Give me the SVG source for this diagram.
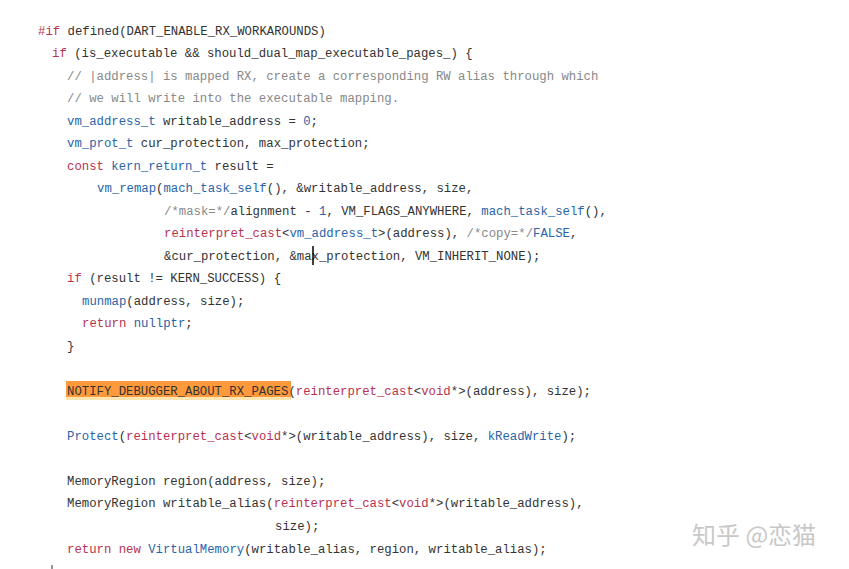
<svg xmlns="http://www.w3.org/2000/svg" width="849" height="569" viewBox="0 0 849 569">
<style>
text{font-family:"Liberation Mono","DejaVu Sans Mono",monospace;font-size:12.3px;fill:#333;white-space:pre}
.k{fill:#b8324f}.t{fill:#2a64a8}.c{fill:#888}.n{fill:#2a64a8}
.wm{font-family:"Noto Sans CJK SC",sans-serif;font-size:24px;fill:#c8c8c8}
</style>
<rect width="849" height="569" fill="#fff"/>
<rect x="66" y="381" width="225" height="19" fill="#ffe6b0"/>
<rect x="66" y="381" width="225" height="16" fill="#ff9a3c"/>
<g id="code">
<text x="38" y="35"><tspan class="k">#if</tspan> defined(DART_ENABLE_RX_WORKAROUNDS)</text>
<text x="52" y="57"><tspan class="k">if</tspan> (is_executable &amp;&amp; should_dual_map_executable_pages_) {</text>
<text x="67" y="80" class="c">// |address| is mapped RX, create a corresponding RW alias through which</text>
<text x="67" y="102" class="c">// we will write into the executable mapping.</text>
<text x="67" y="125"><tspan class="t">vm_address_t</tspan> writable_address = <tspan class="n">0</tspan>;</text>
<text x="67" y="147"><tspan class="t">vm_prot_t</tspan> cur_protection, max_protection;</text>
<text x="67" y="170"><tspan class="k">const</tspan> <tspan class="t">kern_return_t</tspan> result =</text>
<text x="97" y="192"><tspan class="t">vm_remap</tspan>(<tspan class="t">mach_task_self</tspan>(), &amp;writable_address, size,</text>
<text x="164" y="215"><tspan class="c">/*mask=*/</tspan>alignment - <tspan class="n">1</tspan>, VM_FLAGS_ANYWHERE, <tspan class="t">mach_task_self</tspan>(),</text>
<text x="164" y="237"><tspan class="k">reinterpret_cast</tspan>&lt;<tspan class="t">vm_address_t</tspan>&gt;(address), <tspan class="c">/*copy=*/</tspan><tspan class="t">FALSE</tspan>,</text>
<text x="164" y="260">&amp;cur_protection, &amp;max_protection, VM_INHERIT_NONE);</text>
<text x="67" y="282"><tspan class="k">if</tspan> (result != KERN_SUCCESS) {</text>
<text x="82" y="305"><tspan class="t">munmap</tspan>(address, size);</text>
<text x="82" y="327"><tspan class="k">return</tspan> <tspan class="t">nullptr</tspan>;</text>
<text x="67" y="350">}</text>
<text x="67" y="395">NOTIFY_DEBUGGER_ABOUT_RX_PAGES(<tspan class="k">reinterpret_cast</tspan>&lt;<tspan class="k">void</tspan>*&gt;(address), size);</text>
<text x="67" y="440"><tspan class="t">Protect</tspan>(<tspan class="k">reinterpret_cast</tspan>&lt;<tspan class="k">void</tspan>*&gt;(writable_address), size, <tspan class="t">kReadWrite</tspan>);</text>
<text x="67" y="485">MemoryRegion region(address, size);</text>
<text x="67" y="507">MemoryRegion writable_alias(<tspan class="k">reinterpret_cast</tspan>&lt;<tspan class="k">void</tspan>*&gt;(writable_address),</text>
<text x="275" y="530">size);</text>
<text x="67" y="553"><tspan class="k">return</tspan> <tspan class="k">new</tspan> <tspan class="t">VirtualMemory</tspan>(writable_alias, region, writable_alias);</text>
</g>
<line x1="52" y1="565" x2="52" y2="569" stroke="#333" stroke-width="1"/>
<line x1="313" y1="246" x2="313" y2="265" stroke="#000" stroke-width="1.5"/>
<text class="wm" x="692" y="544">知乎 @恋猫</text>
</svg>
